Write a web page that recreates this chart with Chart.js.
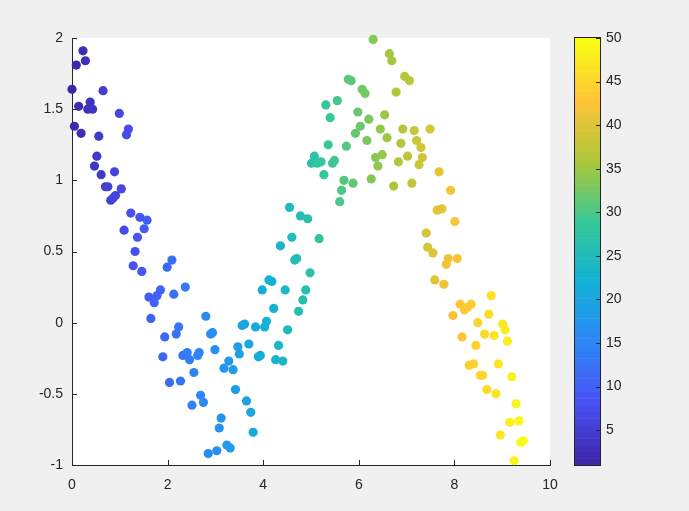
<!DOCTYPE html>
<html lang="en">
<head>
    <meta charset="UTF-8">
    <title>Scatter with colorbar</title>
    <style>
        body {
            margin: 0;
            background-color: #f0f0f0;
        }
        #chart {
            display: block;
        }
    </style>
    <script src="https://cdn.jsdelivr.net/npm/chart.js"></script>
</head>
<body>
    <canvas id="chart" width="689" height="511"></canvas>
    <script>
        // values
        const xValues = [
            0.23, 0.09, 0.28, 0.00, 0.65, 0.14, 0.38, 0.33, 0.43, 0.99,
            0.05, 0.19, 0.56, 1.18, 1.14, 0.52, 0.47, 0.61, 0.89, 0.70,
            0.75, 1.03, 0.81, 0.86, 0.91, 1.23, 1.42, 1.57, 1.09, 1.51,
            1.37, 1.32, 2.09, 1.99, 1.28, 1.46, 1.85, 2.37, 1.61, 1.78,
            1.72, 2.13, 1.65, 2.80, 2.23, 2.18, 1.94, 2.90, 2.94, 3.56,
            3.61, 3.84, 4.03, 4.07, 1.90, 2.32, 2.41, 2.46, 2.63, 2.66,
            2.99, 3.47, 3.70, 3.50, 3.90, 3.94, 3.28, 3.18, 3.37, 2.55,
            2.04, 2.27, 3.42, 2.69, 2.75, 2.51, 3.65, 3.74, 3.12, 3.08,
            3.79, 3.24, 3.31, 3.03, 2.85, 4.55, 4.78, 4.93, 4.60, 5.17,
            4.36, 4.66, 4.70, 4.98, 4.12, 4.18, 3.98, 4.46, 4.89, 4.83,
            4.74, 4.22, 4.51, 4.32, 4.26, 4.41, 6.30, 6.64, 6.69, 5.78,
            5.84, 6.96, 7.06, 6.07, 6.13, 6.78, 5.55, 5.31, 5.98, 6.21,
            6.54, 5.40, 6.03, 6.45, 5.93, 6.17, 6.59, 6.92, 7.16, 7.21,
            7.30, 6.88, 5.36, 5.74, 5.07, 5.01, 5.13, 5.21, 5.49, 5.45,
            6.35, 6.49, 6.40, 7.02, 6.83, 7.33, 7.26, 5.27, 5.69, 5.88,
            6.26, 5.64, 6.73, 7.11, 5.60, 7.49, 7.68, 7.92, 7.74, 7.64,
            8.01, 7.41, 7.44, 7.55, 7.87, 7.83, 8.06, 7.59, 7.78, 8.77,
            8.12, 8.21, 8.35, 8.28, 7.97, 8.72, 8.49, 9.01, 9.06, 8.16,
            8.63, 8.83, 9.11, 8.45, 8.31, 8.40, 8.92, 8.54, 8.59, 9.20,
            8.68, 8.87, 9.29, 9.16, 9.35, 8.96, 9.39, 9.44, 9.25
        ];
        const yValues = [
            1.91, 1.81, 1.84, 1.64, 1.63, 1.52, 1.55, 1.50, 1.50, 1.47,
            1.38, 1.33, 1.31, 1.36, 1.32, 1.17, 1.10, 1.04, 1.06, 0.955,
            0.955, 0.94, 0.86, 0.876, 0.893, 0.77, 0.74, 0.72, 0.65, 0.66,
            0.60, 0.50, 0.44, 0.39, 0.40, 0.36, 0.23, 0.25, 0.18, 0.19,
            0.14, 0.20, 0.03, 0.045, -0.03, -0.08, -0.10, -0.08, -0.07, -0.02,
            -0.01, -0.03, -0.03, 0.01, -0.24, -0.23, -0.21, -0.26, -0.23, -0.21,
            -0.19, -0.17, -0.15, -0.22, -0.24, -0.23, -0.27, -0.32, -0.33, -0.35,
            -0.42, -0.41, -0.47, -0.51, -0.56, -0.58, -0.55, -0.63, -0.67, -0.74,
            -0.77, -0.86, -0.88, -0.90, -0.92, 0.81, 0.75, 0.73, 0.60, 0.59,
            0.54, 0.44, 0.45, 0.35, 0.30, 0.29, 0.23, 0.23, 0.23, 0.16,
            0.08, 0.10, -0.05, -0.16, -0.26, -0.27, 1.99, 1.89, 1.84, 1.71,
            1.70, 1.73, 1.70, 1.64, 1.61, 1.62, 1.56, 1.53, 1.48, 1.43,
            1.46, 1.44, 1.38, 1.36, 1.33, 1.28, 1.30, 1.36, 1.35, 1.28,
            1.23, 1.26, 1.25, 1.24, 1.17, 1.12, 1.12, 1.13, 1.14, 1.12,
            1.16, 1.18, 1.10, 1.17, 1.13, 1.16, 1.11, 1.04, 1.00, 0.98,
            1.01, 0.93, 0.96, 0.98, 0.85, 1.36, 1.06, 0.93, 0.80, 0.79,
            0.71, 0.63, 0.53, 0.49, 0.45, 0.41, 0.45, 0.30, 0.27, 0.19,
            0.13, 0.09, 0.13, 0.11, 0.05, 0.06, 0.00, -0.01, -0.05, -0.10,
            -0.08, -0.09, -0.13, -0.16, -0.30, -0.29, -0.29, -0.37, -0.37, -0.38,
            -0.47, -0.50, -0.57, -0.70, -0.69, -0.79, -0.84, -0.83, -0.97
        ];
        const xTicks = [0, 2, 4, 6, 8, 10];
        const yTicks = [-1, -0.5, 0, 0.5, 1, 1.5, 2];
        const cbTicks = [5, 10, 15, 20, 25, 30, 35, 40, 45, 50];
        const cMin = 1, cMax = 50;

        const axisColor = '#262626';
        const tickFont = { family: '"Liberation Sans", Arial, sans-serif', size: 14 };

        // parula(8) anchors
        const parulaStops = [
            [0.2422, 0.1504, 0.6603], [0.2810, 0.3228, 0.9579],
            [0.1786, 0.5289, 0.9682], [0.0689, 0.6948, 0.8394],
            [0.2161, 0.7843, 0.5923], [0.6720, 0.7793, 0.2227],
            [0.9970, 0.7659, 0.2199], [0.9769, 0.9839, 0.0805]
        ];
        function parula(t) {
            t = Math.min(1, Math.max(0, t));
            const f = t * (parulaStops.length - 1);
            const i = Math.min(parulaStops.length - 2, Math.floor(f));
            const k = f - i;
            const a = parulaStops[i], b = parulaStops[i + 1];
            const c = a.map((v, j) => Math.round(255 * (v + (b[j] - v) * k)));
            return 'rgb(' + c.join(',') + ')';
        }

        // color follows x, stretched over the colorbar range
        const xMaxData = Math.max(...xValues);
        function colorFor(x) {
            const c = cMin + (cMax - cMin) * x / xMaxData;
            return parula((c - cMin) / (cMax - cMin));
        }

        const points = xValues.map((x, i) => ({ x: x, y: yValues[i] }));

        // vertical axes should not push the plot box down
        function noVertPadding(s) {
            s.paddingTop = 0;
            s.paddingBottom = 0;
        }

        const matlabLook = {
            id: 'matlabLook',
            beforeDraw(chart) {
                const { ctx, chartArea: a } = chart;
                ctx.save();
                ctx.fillStyle = '#f0f0f0';
                ctx.fillRect(0, 0, chart.width, chart.height);
                ctx.fillStyle = '#ffffff';
                ctx.fillRect(a.left, a.top, a.right - a.left, a.bottom - a.top);
                ctx.restore();
            },
            afterDraw(chart) {
                const { ctx, chartArea: a } = chart;
                const xs = chart.scales.x, ys = chart.scales.y, cb = chart.scales.cb;
                ctx.save();
                ctx.strokeStyle = axisColor;
                ctx.lineWidth = 1;
                ctx.beginPath();
                xTicks.forEach(v => {
                    const px = Math.round(xs.getPixelForValue(v)) + 0.5;
                    ctx.moveTo(px, a.bottom);
                    ctx.lineTo(px, a.bottom - 5);
                });
                yTicks.forEach(v => {
                    const py = Math.round(ys.getPixelForValue(v)) + 0.5;
                    ctx.moveTo(a.left, py);
                    ctx.lineTo(a.left + 5, py);
                });
                ctx.stroke();

                // colorbar
                const left = 575, right = 600;
                const top = cb.getPixelForValue(cMax), bottom = cb.getPixelForValue(cMin);
                const n = 64;
                for (let i = 0; i < n; i++) {
                    const y0 = bottom - (bottom - top) * i / n;
                    const y1 = bottom - (bottom - top) * (i + 1) / n;
                    ctx.fillStyle = parula(i / (n - 1));
                    ctx.fillRect(left, y1, right - left, y0 - y1 + 0.5);
                }
                ctx.strokeRect(left - 0.5, top - 0.5, right - left + 1, bottom - top + 1);
                ctx.beginPath();
                cbTicks.forEach(v => {
                    const py = Math.round(cb.getPixelForValue(v)) + 0.5;
                    ctx.moveTo(right, py);
                    ctx.lineTo(right - 4, py);
                });
                ctx.stroke();
                ctx.restore();
            }
        };

        new Chart(document.getElementById('chart'), {
            type: 'scatter',
            data: {
                datasets: [{
                    data: points,
                    backgroundColor: ctx => colorFor(ctx.raw.x),
                    borderWidth: 0,
                    pointRadius: 4.6,
                    pointHoverRadius: 4.6,
                    clip: false
                }]
            },
            options: {
                responsive: false,
                animation: false,
                devicePixelRatio: 1,
                layout: { padding: { top: 38 } },
                plugins: {
                    legend: { display: false },
                    tooltip: { enabled: false }
                },
                scales: {
                    x: {
                        type: 'linear',
                        min: 0,
                        max: 10,
                        afterBuildTicks: s => { s.ticks = xTicks.map(v => ({ value: v })); },
                        afterFit: s => { s.height = 46; s.paddingLeft = 0; s.paddingRight = 0; },
                        grid: { display: false, drawTicks: false, tickLength: 0 },
                        border: { display: true, color: axisColor, width: 1 },
                        ticks: { color: axisColor, font: tickFont, padding: 12, maxRotation: 0 }
                    },
                    y: {
                        type: 'linear',
                        min: -1,
                        max: 2,
                        afterBuildTicks: s => { s.ticks = yTicks.map(v => ({ value: v })); },
                        afterFit: s => { s.width = 72; noVertPadding(s); },
                        grid: { display: false, drawTicks: false, tickLength: 0 },
                        border: { display: true, color: axisColor, width: 1 },
                        ticks: { color: axisColor, font: tickFont, padding: 9, callback: v => String(v) }
                    },
                    cb: {
                        type: 'linear',
                        position: 'right',
                        min: cMin,
                        max: cMax,
                        afterBuildTicks: s => { s.ticks = cbTicks.map(v => ({ value: v })); },
                        afterFit: s => { s.width = 139; noVertPadding(s); },
                        grid: { display: false, drawTicks: false, tickLength: 0 },
                        border: { display: false },
                        ticks: { color: axisColor, font: tickFont, padding: 56 }
                    }
                }
            },
            plugins: [matlabLook]
        });
    </script>
</body>
</html>
